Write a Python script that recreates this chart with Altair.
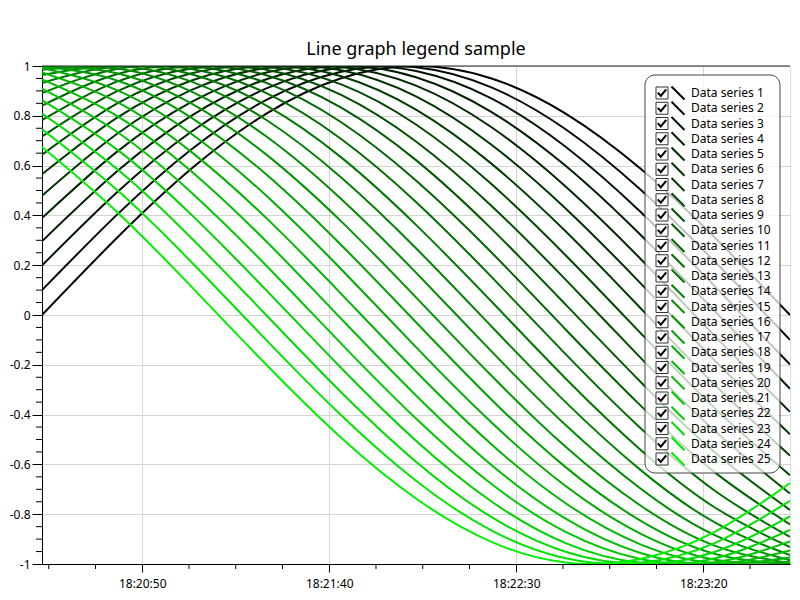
import altair as alt
import pandas as pd

# ---- data ----
times = [
    "2024-01-01T18:20:23.200", "2024-01-01T18:20:43.200", "2024-01-01T18:21:03.200",
    "2024-01-01T18:21:23.200", "2024-01-01T18:21:43.200", "2024-01-01T18:22:03.200",
    "2024-01-01T18:22:23.200", "2024-01-01T18:22:43.200", "2024-01-01T18:23:03.200",
    "2024-01-01T18:23:23.200", "2024-01-01T18:23:43.200",
]

series_names = [
    "Data series 1", "Data series 2", "Data series 3", "Data series 4", "Data series 5",
    "Data series 6", "Data series 7", "Data series 8", "Data series 9", "Data series 10",
    "Data series 11", "Data series 12", "Data series 13", "Data series 14", "Data series 15",
    "Data series 16", "Data series 17", "Data series 18", "Data series 19", "Data series 20",
    "Data series 21", "Data series 22", "Data series 23", "Data series 24", "Data series 25",
]

series_colors = [
    "#000000", "#000a00", "#001400", "#001e00", "#002800", "#003200", "#003c00",
    "#004600", "#005000", "#005a00", "#006400", "#006e00", "#007800", "#008200",
    "#008c00", "#009600", "#00a000", "#00aa00", "#00b400", "#00be00", "#00c800",
    "#00d200", "#00dc00", "#00e600", "#00f000",
]

series_values = [
    [0.0, 0.309, 0.588, 0.809, 0.951, 1.0, 0.951, 0.809, 0.588, 0.309, 0.0],
    [0.1, 0.402, 0.666, 0.864, 0.977, 0.995, 0.915, 0.746, 0.504, 0.213, -0.1],
    [0.199, 0.492, 0.737, 0.91, 0.994, 0.98, 0.871, 0.676, 0.415, 0.114, -0.199],
    [0.296, 0.576, 0.801, 0.947, 1.0, 0.955, 0.817, 0.599, 0.322, 0.014, -0.296],
    [0.389, 0.655, 0.856, 0.974, 0.996, 0.921, 0.756, 0.516, 0.226, -0.086, -0.389],
    [0.479, 0.727, 0.904, 0.992, 0.983, 0.878, 0.686, 0.428, 0.128, -0.185, -0.479],
    [0.565, 0.792, 0.942, 1.0, 0.959, 0.825, 0.61, 0.336, 0.028, -0.282, -0.565],
    [0.644, 0.849, 0.971, 0.997, 0.926, 0.765, 0.528, 0.24, -0.072, -0.376, -0.644],
    [0.717, 0.898, 0.99, 0.985, 0.884, 0.697, 0.441, 0.142, -0.171, -0.467, -0.717],
    [0.783, 0.937, 0.999, 0.963, 0.833, 0.622, 0.349, 0.042, -0.268, -0.553, -0.783],
    [0.841, 0.967, 0.998, 0.932, 0.774, 0.54, 0.254, -0.058, -0.363, -0.633, -0.841],
    [0.891, 0.988, 0.988, 0.891, 0.707, 0.454, 0.156, -0.157, -0.454, -0.707, -0.891],
    [0.932, 0.998, 0.967, 0.841, 0.633, 0.362, 0.057, -0.255, -0.541, -0.774, -0.932],
    [0.964, 0.999, 0.937, 0.783, 0.552, 0.268, -0.043, -0.35, -0.622, -0.834, -0.964],
    [0.985, 0.99, 0.897, 0.717, 0.466, 0.17, -0.143, -0.442, -0.697, -0.885, -0.985],
    [0.997, 0.971, 0.849, 0.644, 0.376, 0.071, -0.241, -0.529, -0.765, -0.927, -0.997],
    [1.0, 0.942, 0.792, 0.564, 0.281, -0.029, -0.337, -0.611, -0.826, -0.96, -1.0],
    [0.992, 0.903, 0.727, 0.479, 0.184, -0.129, -0.429, -0.687, -0.878, -0.983, -0.992],
    [0.974, 0.856, 0.654, 0.389, 0.085, -0.227, -0.517, -0.756, -0.921, -0.996, -0.974],
    [0.946, 0.8, 0.576, 0.295, -0.015, -0.323, -0.6, -0.818, -0.956, -1.0, -0.946],
    [0.909, 0.736, 0.491, 0.198, -0.115, -0.416, -0.677, -0.871, -0.98, -0.993, -0.909],
    [0.863, 0.665, 0.402, 0.099, -0.213, -0.505, -0.747, -0.916, -0.995, -0.977, -0.863],
    [0.809, 0.587, 0.308, -0.001, -0.31, -0.589, -0.81, -0.951, -1.0, -0.951, -0.809],
    [0.746, 0.503, 0.212, -0.101, -0.403, -0.666, -0.864, -0.977, -0.995, -0.915, -0.746],
    [0.675, 0.415, 0.113, -0.2, -0.493, -0.737, -0.91, -0.994, -0.98, -0.87, -0.675],
]

y_major = [-1, -0.8, -0.6, -0.4, -0.2, 0, 0.2, 0.4, 0.6, 0.8, 1]
y_minor = [-0.95, -0.9, -0.85, -0.75, -0.7, -0.65, -0.55, -0.5, -0.45, -0.35, -0.3, -0.25,
           -0.15, -0.1, -0.05, 0.05, 0.1, 0.15, 0.25, 0.3, 0.35, 0.45, 0.5, 0.55,
           0.65, 0.7, 0.75, 0.85, 0.9, 0.95]
x_minor = [
    "2024-01-01T18:20:25.000", "2024-01-01T18:20:37.500", "2024-01-01T18:21:02.500",
    "2024-01-01T18:21:15.000", "2024-01-01T18:21:27.500", "2024-01-01T18:21:52.500",
    "2024-01-01T18:22:05.000", "2024-01-01T18:22:17.500", "2024-01-01T18:22:42.500",
    "2024-01-01T18:22:55.000", "2024-01-01T18:23:07.500", "2024-01-01T18:23:32.500",
]

FONT = "Noto Sans"


def dt(h, m, s, ms=0):
    return alt.DateTime(year=2024, month=1, date=1, hours=h, minutes=m, seconds=s, milliseconds=ms)


x_major = [dt(18, 20, 50), dt(18, 21, 40), dt(18, 22, 30), dt(18, 23, 20)]
x_domain = [dt(18, 20, 23, 200), dt(18, 23, 43, 200)]

rows = []
for name, vals in zip(series_names, series_values):
    for t, v in zip(times, vals):
        rows.append({"series": name, "t": t, "v": v})
df = pd.DataFrame(rows)

x_scale = alt.Scale(domain=x_domain, nice=False)
y_scale = alt.Scale(domain=[-1, 1], nice=False, zero=False)
color_enc = alt.Color("series:N", scale=alt.Scale(domain=series_names, range=series_colors), legend=None)

lines = alt.Chart(df).mark_line(strokeWidth=2, interpolate="natural", clip=True).encode(
    x=alt.X("t:T", scale=x_scale, title=None,
            axis=alt.Axis(values=x_major, format="%H:%M:%S", tickSize=8, tickColor="black",
                          domainColor="black", grid=True, gridColor="#d4d4d4",
                          labelFont=FONT, labelFontSize=12, labelColor="black",
                          labelPadding=6, labelFlush=False)),
    y=alt.Y("v:Q", scale=y_scale, title=None,
            axis=alt.Axis(values=y_major, labelExpr="'' + datum.value", tickSize=10,
                          tickColor="black", domainColor="black", grid=True,
                          gridColor="#d4d4d4", labelFont=FONT, labelFontSize=12,
                          labelColor="black", labelPadding=2)),
    color=color_enc,
)

xminor_ticks = alt.Chart(pd.DataFrame({"t": x_minor})).mark_rule(color="black").encode(
    x=alt.X("t:T", scale=x_scale, title=None),
    y=alt.value(498), y2=alt.value(503),
)

yminor_ticks = alt.Chart(pd.DataFrame({"v": y_minor})).mark_rule(color="black").encode(
    y=alt.Y("v:Q", scale=y_scale, axis=None),
    x=alt.value(-6), x2=alt.value(0),
)

one = pd.DataFrame({"a": [0]})
top_border = alt.Chart(one).mark_rule(color="#222222").encode(
    x=alt.value(0), x2=alt.value(748), y=alt.value(0)
)

legend_box = alt.Chart(one).mark_rect(
    cornerRadius=10, fill="white", fillOpacity=0.75, stroke="#444444", strokeWidth=1
).encode(x=alt.value(603), x2=alt.value(738), y=alt.value(9), y2=alt.value(407))

leg_df = pd.DataFrame({"series": series_names})
row_y = alt.Y("series:N", sort=series_names,
              scale=alt.Scale(type="point", range=[27, 393], padding=0), axis=None)

boxes = alt.Chart(leg_df).mark_square(
    size=144, filled=True, fill="white", stroke="#333333", strokeWidth=1, opacity=1
).encode(x=alt.value(620), y=row_y)

checks = alt.Chart(leg_df).mark_point(
    shape="M-0.7,-0.05L-0.2,0.5L0.7,-0.6", size=144, filled=False, color="black",
    strokeWidth=2, opacity=1
).encode(x=alt.value(620), y=row_y)

samples = alt.Chart(leg_df).mark_point(
    shape="M-1,-1L1,1", size=169, filled=False, strokeWidth=2, opacity=1
).encode(x=alt.value(636), y=row_y, color=color_enc)

labels = alt.Chart(leg_df).mark_text(
    align="left", baseline="middle", font=FONT, fontSize=12, color="black"
).encode(x=alt.value(649), y=row_y, text="series:N")

chart = alt.layer(
    lines, xminor_ticks, yminor_ticks, top_border, legend_box, boxes, checks, samples, labels
).resolve_scale(y="independent").properties(
    width=748, height=498,
    autosize=alt.AutoSizeParams(type="none"),
    padding={"left": 34, "top": 58, "right": 2, "bottom": 28},
    title=alt.TitleParams("Line graph legend sample", fontSize=18, font=FONT,
                          fontWeight="normal", color="black", anchor="middle",
                          offset=11, baseline="alphabetic", dy=24),
).configure_view(stroke="#cfcfcf", strokeWidth=1).configure(background="white")

chart.save("out.html", embed_options={"renderer": "svg", "actions": False})
